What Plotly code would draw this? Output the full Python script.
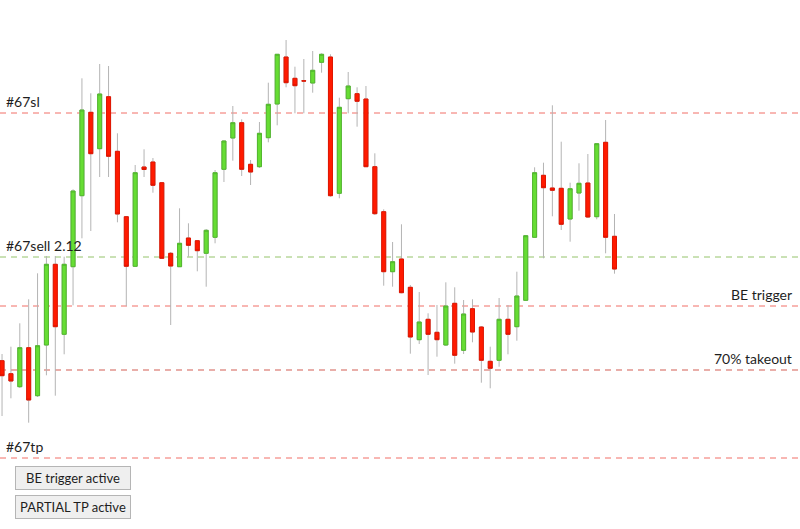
import plotly.graph_objects as go

# OHLC values
opens = [2.0163, 2.0033, 1.9903, 2.0293, 1.9813, 2.0320, 2.1127, 2.0427, 2.1103, 2.1813,
         2.2647, 2.2283, 2.2803, 2.2257, 2.1603, 2.1107, 2.2100, 2.2150, 2.1943, 2.1237,
         2.1103, 2.1390, 2.1363, 2.1237, 2.1397, 2.2077, 2.2390, 2.2543, 2.2127, 2.2103,
         2.2393, 2.2730, 2.3200, 2.2987, 2.2962, 2.2940, 2.3147, 2.3200, 2.1837, 2.2783,
         2.2833, 2.2780, 2.2103, 2.1653, 2.1053, 2.1180, 2.0897, 2.0373, 2.0577, 2.0447,
         2.0320, 2.0737, 2.0267, 2.0683, 2.0500, 2.0157, 2.0167, 2.0577, 2.0503, 2.0767,
         2.1397, 2.2017, 2.1890, 2.1887, 2.1580, 2.1840, 2.1940, 2.1603, 2.2347, 2.1407]
highs = [2.0230, 2.0303, 2.0537, 2.0777, 2.1037, 2.1210, 2.1210, 2.1203, 2.1877, 2.2987,
         2.2837, 2.3130, 2.3110, 2.2437, 2.1610, 2.2120, 2.2277, 2.2190, 2.1950, 2.1250,
         2.1687, 2.1537, 2.1370, 2.1480, 2.2070, 2.2370, 2.2710, 2.2577, 2.2170, 2.2550,
         2.2943, 2.3230, 2.3370, 2.3103, 2.3180, 2.3260, 2.3237, 2.3227, 2.2793, 2.3050,
         2.2897, 2.2910, 2.2237, 2.1677, 2.1350, 2.1527, 2.0920, 2.0850, 2.0637, 2.0720,
         2.0947, 2.0897, 2.0770, 2.0777, 2.0510, 2.0303, 2.0790, 2.0720, 2.1053, 2.1420,
         2.2097, 2.2143, 2.2717, 2.2353, 2.1943, 2.2137, 2.2230, 2.2340, 2.2570, 2.1630]
lows = [1.9610, 1.9787, 1.9890, 1.9543, 1.9800, 2.0017, 1.9813, 2.0227, 2.0717, 2.1387,
        2.1460, 2.2000, 2.2000, 2.1547, 2.0710, 2.1100, 2.2000, 2.1843, 2.1180, 2.0520,
        2.1100, 2.1203, 2.1057, 2.0903, 2.1337, 2.1950, 2.2163, 2.2010, 2.1920, 2.2090,
        2.2347, 2.2517, 2.2897, 2.2637, 2.2637, 2.2843, 2.3043, 2.1803, 2.1787, 2.2637,
        2.2503, 2.2100, 2.1620, 2.0913, 2.0903, 2.0837, 2.0233, 2.0330, 2.0020, 2.0203,
        2.0310, 2.0133, 2.0230, 2.0347, 1.9943, 1.9887, 2.0103, 2.0227, 2.0363, 2.0760,
        2.1390, 2.1187, 2.1607, 2.1470, 2.1353, 2.1663, 2.1590, 2.1577, 2.1237, 2.1033]
closes = [2.0013, 1.9960, 2.0293, 1.9770, 2.0313, 2.1127, 2.0503, 2.1127, 2.1860, 2.2670,
          2.2233, 2.2830, 2.2207, 2.1630, 2.1107, 2.2043, 2.2075, 2.1917, 2.1187, 2.1110,
          2.1337, 2.1317, 2.1263, 2.1467, 2.2043, 2.2360, 2.2543, 2.2077, 2.2050, 2.2437,
          2.2727, 2.3227, 2.2943, 2.2913, 2.2960, 2.3067, 2.3227, 2.1813, 2.2697, 2.2910,
          2.2757, 2.2103, 2.1633, 2.1053, 2.1153, 2.0843, 2.0400, 2.0550, 2.0427, 2.0373,
          2.0710, 2.0217, 2.0630, 2.0450, 2.0167, 2.0087, 2.0577, 2.0427, 2.0810, 2.1413,
          2.2043, 2.1893, 2.1867, 2.1527, 2.1883, 2.1937, 2.1600, 2.2333, 2.1397, 2.1080]

# Horizontal level lines
level_names = ["#67sl", "#67sell 2.12", "BE trigger", "70% takeout", "#67tp"]
level_values = [2.2640, 2.1200, 2.0710, 2.0070, 1.9190]
level_colors = ["rgba(238,85,75,0.85)", "rgba(130,185,80,0.85)", "rgba(238,85,75,0.85)",
                "rgba(205,75,65,0.9)", "rgba(238,85,75,0.85)"]
level_sides = ["left", "left", "right", "right", "left"]

button_labels = ["BE trigger active", "PARTIAL TP active"]

x = list(range(len(opens)))
body_hi = [max(o, c) for o, c in zip(opens, closes)]
body_lo = [min(o, c) for o, c in zip(opens, closes)]

fig = go.Figure()

# wicks (gray)
fig.add_trace(go.Candlestick(
    x=x, open=opens, high=highs, low=lows, close=closes,
    increasing=dict(line=dict(color="#b4b4b4", width=1), fillcolor="#b4b4b4"),
    decreasing=dict(line=dict(color="#b4b4b4", width=1), fillcolor="#b4b4b4"),
    whiskerwidth=0, showlegend=False, hoverinfo="skip"))

# bodies
fig.add_trace(go.Candlestick(
    x=x, open=opens, high=body_hi, low=body_lo, close=closes,
    increasing=dict(line=dict(color="#52b82e", width=1), fillcolor="#66dd33"),
    decreasing=dict(line=dict(color="#e01500", width=1), fillcolor="#ff1a00"),
    whiskerwidth=0, showlegend=False))

for name, val, col, side in zip(level_names, level_values, level_colors, level_sides):
    fig.add_shape(type="line", xref="paper", x0=0, x1=1, yref="y", y0=val, y1=val,
                  line=dict(color=col, width=1, dash="6px,5px"), layer="below")
    fig.add_annotation(
        text=name, xref="paper", yref="y",
        x=0.005 if side == "left" else 0.993, y=val,
        xanchor="left" if side == "left" else "right", yanchor="bottom",
        yshift=1, showarrow=False,
        font=dict(family="Lato, 'Open Sans', sans-serif", size=14, color="#1e1e1e"))

btn_y = [0.0963, 0.0415]
for lbl, yy in zip(button_labels, btn_y):
    fig.add_annotation(
        text=lbl, xref="paper", yref="paper", x=0.0915, y=yy,
        xanchor="center", yanchor="middle", showarrow=False,
        width=110, height=18, borderpad=2,
        bgcolor="#efefef", bordercolor="#b5b5b5", borderwidth=1,
        font=dict(family="Lato, 'Open Sans', sans-serif", size=13, color="#1e1e1e"))

fig.update_layout(
    width=800, height=529,
    margin=dict(l=0, r=0, t=0, b=0),
    paper_bgcolor="white", plot_bgcolor="white",
    boxgap=0.35,
    xaxis=dict(range=[-0.23, 89.9], visible=False, rangeslider=dict(visible=False),
               fixedrange=True),
    yaxis=dict(range=[1.848, 2.377], visible=False, fixedrange=True),
    showlegend=False,
)

fig.write_html("out.html",
               config={"displayModeBar": False},
               post_script="document.body.style.margin='0px';document.body.style.overflow='hidden';")
